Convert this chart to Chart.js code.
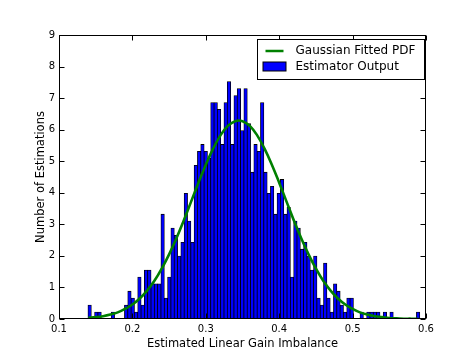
<!DOCTYPE html>
<html><head><meta charset="utf-8">
<script src="https://cdn.jsdelivr.net/npm/chart.js@4/dist/chart.umd.min.js"></script>
<style>html,body{margin:0;padding:0;background:#fff}canvas{display:block}</style>
</head><body>
<canvas id="c" width="474" height="355"></canvas>
<script>
// Histogram bins: first bin left edge and width
const binStart = 0.1395;
const binWidth = 0.00452;
// Estimator Output histogram heights (density), one per bin (100 bins)
const densities = [
  0.44, 0, 0.22, 0.22, 0, 0, 0, 0.22, 0, 0,
  0, 0.44, 0.88, 0.66, 0.22, 1.33, 0.44, 1.55, 1.55, 1.11,
  1.11, 1.11, 3.32, 0.66, 1.33, 2.88, 2.65, 1.99, 2.43, 3.98,
  3.10, 2.43, 4.87, 5.31, 5.53, 5.31, 5.09, 6.86, 6.86, 6.64,
  5.53, 6.86, 7.52, 5.53, 7.08, 7.30, 5.97, 7.30, 6.19, 4.65,
  5.53, 5.31, 6.86, 4.65, 3.98, 4.20, 3.32, 3.98, 4.42, 3.32,
  3.54, 1.33, 3.10, 2.88, 2.21, 2.43, 1.99, 1.55, 1.99, 0.66,
  0.44, 1.77, 0.66, 0.22, 1.11, 0.88, 0.44, 0.22, 0.66, 0.66,
  0, 0, 0.22, 0, 0.22, 0.22, 0.22, 0.22, 0, 0.22,
  0, 0.22, 0, 0, 0, 0, 0, 0, 0, 0.22
];
// Gaussian Fitted PDF points
const curveX = [0.14,0.15,0.16,0.17,0.18,0.19,0.20,0.21,0.22,0.23,0.24,0.25,0.26,0.27,0.28,0.29,0.30,0.31,0.32,0.33,0.34,0.35,0.36,0.37,0.38,0.39,0.40,0.41,0.42,0.43,0.44,0.45,0.46,0.47,0.48,0.49,0.50,0.51,0.52,0.53,0.54,0.55,0.56,0.57,0.58,0.59];
const curveY = [0.04,0.06,0.09,0.14,0.21,0.32,0.46,0.65,0.90,1.21,1.60,2.05,2.56,3.12,3.72,4.32,4.89,5.40,5.82,6.12,6.27,6.27,6.12,5.82,5.40,4.89,4.32,3.72,3.12,2.56,2.05,1.60,1.21,0.90,0.65,0.46,0.32,0.21,0.14,0.09,0.06,0.03,0.02,0.01,0.01,0.00];
const xTicks = [0.1,0.2,0.3,0.4,0.5,0.6];
const yTicks = [0,1,2,3,4,5,6,7,8,9];
const xTitle = 'Estimated Linear Gain Imbalance';
const yTitle = 'Number of Estimations';
const legendLabels = ['Gaussian Fitted PDF','Estimator Output'];

const FONT = 'DejaVu Sans';
const barData = densities.map((v,i)=>({x: binStart + binWidth*(i+0.5), y: v}));
const lineData = curveX.map((v,i)=>({x: v, y: curveY[i]}));

const framePlugin = {
  id: 'frame',
  afterDatasetsDraw(chart){
    const {ctx, chartArea:a, scales:{x,y}} = chart;
    ctx.save();
    ctx.strokeStyle = '#000';
    ctx.lineWidth = 1;
    const L = Math.round(a.left)+0.5, R = Math.round(a.right)-0.5;
    const T = Math.round(a.top)+0.5, B = Math.round(a.bottom)-0.5;
    ctx.strokeRect(L, T, R-L, B-T);
    const tl = 5;
    ctx.beginPath();
    xTicks.forEach(v=>{
      const p = Math.round(x.getPixelForValue(v))+0.5;
      ctx.moveTo(p,B); ctx.lineTo(p,B-tl);
      ctx.moveTo(p,T); ctx.lineTo(p,T+tl);
    });
    yTicks.forEach(v=>{
      const p = Math.round(y.getPixelForValue(v))+0.5;
      ctx.moveTo(L,p); ctx.lineTo(L+tl,p);
      ctx.moveTo(R,p); ctx.lineTo(R-tl,p);
    });
    ctx.stroke();
    // legend
    const w = 167, h = 40;
    const lx = Math.round(a.right - 169)+0.5, ly = Math.round(a.top + 4)+0.5;
    ctx.fillStyle = '#fff';
    ctx.fillRect(lx, ly, w, h);
    ctx.strokeStyle = '#000';
    ctx.lineWidth = 1;
    ctx.strokeRect(lx, ly, w, h);
    ctx.strokeStyle = '#008000';
    ctx.lineWidth = 2.5;
    ctx.beginPath();
    ctx.moveTo(lx+8, ly+11.5); ctx.lineTo(lx+26, ly+11.5);
    ctx.stroke();
    ctx.fillStyle = '#0000ff';
    ctx.fillRect(lx+5.5, ly+22.5, 23, 9);
    ctx.strokeStyle = '#000';
    ctx.lineWidth = 1;
    ctx.strokeRect(lx+5.5, ly+22.5, 23, 9);
    ctx.fillStyle = '#000';
    ctx.font = '12px "' + FONT + '"';
    ctx.textBaseline = 'middle';
    ctx.textAlign = 'left';
    ctx.fillText(legendLabels[0], lx+38, ly+11.5);
    ctx.fillText(legendLabels[1], lx+38, ly+27);
    ctx.restore();
  }
};

new Chart(document.getElementById('c'), {
  type: 'bar',
  data: {
    datasets: [
      {
        type: 'line', label: legendLabels[0], data: lineData,
        borderColor: '#008000', borderWidth: 2.6, pointRadius: 0,
        tension: 0.4, fill: false, order: 0
      },
      {
        type: 'bar', label: legendLabels[1], data: barData,
        backgroundColor: '#0000ff', borderColor: '#000000', borderWidth: 0.8,
        borderSkipped: 'start', inflateAmount: 0.4,
        barPercentage: 1.0, categoryPercentage: 1.0, order: 1
      }
    ]
  },
  options: {
    responsive: false, animation: false, devicePixelRatio: 1,
    layout: { padding: { left: 34, top: 35, right: 48, bottom: 4 } },
    plugins: { legend: { display: false }, tooltip: { enabled: false } },
    scales: {
      x: {
        type: 'linear', min: 0.1, max: 0.6, offset: false,
        afterFit(s){ s.height = 32; },
        afterBuildTicks(s){ s.ticks = xTicks.map(v=>({value:v})); },
        ticks: { color: '#000', font: { family: FONT, size: 10 }, padding: 4,
                 maxRotation: 0, callback: v => Number(v).toFixed(1) },
        grid: { display: false, drawTicks: false },
        border: { display: false },
        title: { display: true, text: xTitle, color: '#000',
                 font: { family: FONT, size: 11.5 }, padding: { top: 0, bottom: 0 } }
      },
      y: {
        min: 0, max: 9,
        afterFit(s){ s.width = 25; },
        afterBuildTicks(s){ s.ticks = yTicks.map(v=>({value:v})); },
        ticks: { color: '#000', font: { family: FONT, size: 10 }, padding: 4 },
        grid: { display: false, drawTicks: false },
        border: { display: false },
        title: { display: true, text: yTitle, color: '#000',
                 font: { family: FONT, size: 11.5 }, padding: { top: 0, bottom: 0 } }
      }
    }
  },
  plugins: [framePlugin]
});
</script>
</body></html>
